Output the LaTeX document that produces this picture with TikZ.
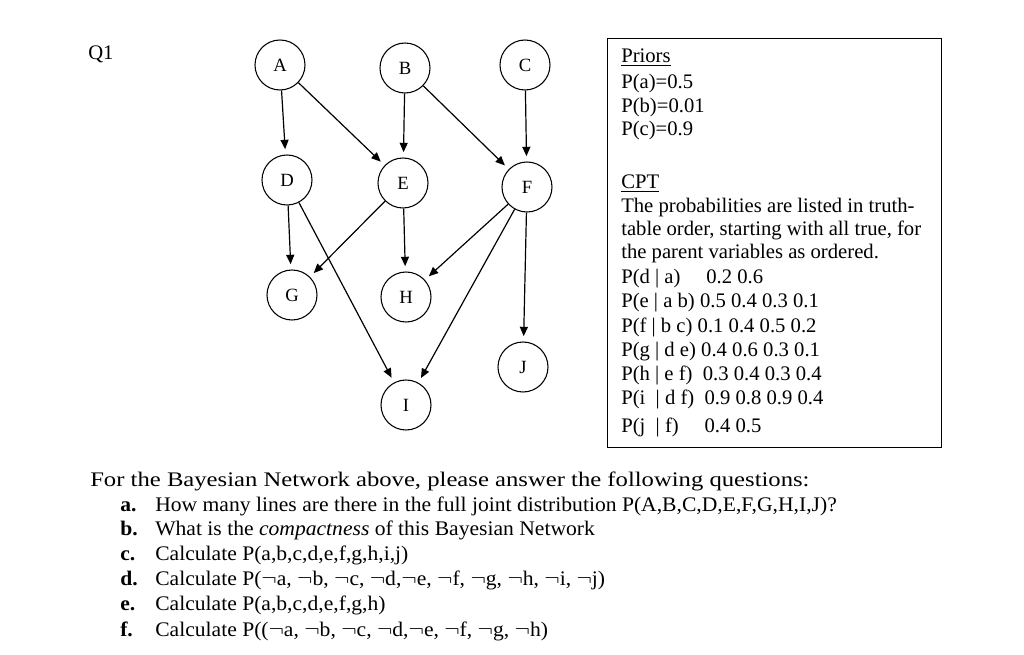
\documentclass[tikz,border=0pt]{standalone}
\usepackage{fontspec}
\setmainfont{Liberation Serif}
\usepackage{graphicx}
\usetikzlibrary{arrows.meta}
\begin{document}
\begin{tikzpicture}[x=0.75pt,y=-0.75pt,
  nd/.style={circle,draw,line width=0.8pt,minimum size=37.5pt,inner sep=0pt,font=\fontsize{14}{16}\selectfont},
  ar/.style={-{Triangle[length=7pt,width=6pt]},line width=0.9pt,shorten >=4pt},
  tx/.style={anchor=base west,inner sep=0pt,font=\fontsize{15.5}{17}\selectfont},
  bt/.style={anchor=base west,inner sep=0pt,font=\fontsize{18.5}{20}\selectfont},
  it/.style={anchor=base west,inner sep=0pt,font=\fontsize{16.2}{18}\selectfont}]
\useasboundingbox (0,0) rectangle (1024,655);
\node[tx] (q) at (88,60) {Q1};
\node[nd] (A) at (280,65) {A};
\node[nd] (B) at (405,68) {B};
\node[nd] (C) at (525,65) {C};
\node[nd] (D) at (287,180) {D};
\node[nd] (E) at (403,183) {E};
\node[nd] (F) at (527,187) {F};
\node[nd] (G) at (292,295) {G};
\node[nd] (H) at (406,297) {H};
\node[nd] (J) at (523,367) {J};
\node[nd] (I) at (406,405) {I};
\draw[ar] (A) -- (D); \draw[ar] (A) -- (E);
\draw[ar] (B) -- (E); \draw[ar] (B) -- (F);
\draw[ar] (C) -- (F);
\draw[ar] (D) -- (G); \draw[ar] (D) -- (I);
\draw[ar] (E) -- (G); \draw[ar] (E) -- (H);
\draw[ar] (F) -- (H); \draw[ar] (F) -- (I); \draw[ar] (F) -- (J);
\node[draw,line width=0.8pt,minimum width=250.5pt,minimum height=307pt,anchor=north west,inner sep=0pt] (box) at (607,38) {};
\node[tx] at (621,63) {\underline{Priors}};
\node[tx] at (621,89) {P(a)=0.5};
\node[tx] at (621,113) {P(b)=0.01};
\node[tx] at (621,136) {P(c)=0.9};
\node[tx] at (621,189) {\underline{CPT}};
\node[tx] at (621,213) {The probabilities are listed in truth-};
\node[tx] at (621,236) {table order, starting with all true, for};
\node[tx] at (621,259) {the parent variables as ordered.};
\node[tx] at (621,284) {P(d | a) \quad 0.2 0.6};
\node[tx] at (621,308) {P(e | a b) 0.5 0.4 0.3 0.1};
\node[tx] at (621,333) {P(f | b c) 0.1 0.4 0.5 0.2};
\node[tx] at (621,357) {P(g | d e) 0.4 0.6 0.3 0.1};
\node[tx] at (621,381) {P(h | e f) \ 0.3 0.4 0.3 0.4};
\node[tx] at (621,405) {P(i \ | d f) \ 0.9 0.8 0.9 0.4};
\node[tx] at (621,433) {P(j \ | f) \quad 0.4 0.5};
\node[bt] at (90,487) {\scalebox{1}[0.84]{For the Bayesian Network above, please answer the following questions:}};
\foreach \l/\t/\y in {a/{How many lines are there in the full joint distribution P(A,B,C,D,E,F,G,H,I,J)?}/511,
  b/{What is the \emph{compactness} of this Bayesian Network}/535,
  c/{Calculate P(a,b,c,d,e,f,g,h,i,j)}/560,
  d/{Calculate P($\neg$a, $\neg$b, $\neg$c, $\neg$d,$\neg$e, $\neg$f, $\neg$g, $\neg$h, $\neg$i, $\neg$j)}/585,
  e/{Calculate P(a,b,c,d,e,f,g,h)}/610,
  f/{Calculate P(($\neg$a, $\neg$b, $\neg$c, $\neg$d,$\neg$e, $\neg$f, $\neg$g, $\neg$h)}/636}
{\node[it] at (120,\y) {\scalebox{1}[0.96]{\textbf{\l.}}}; \node[it] at (155,\y) {\scalebox{1}[0.96]{\t}};}
\end{tikzpicture}
\end{document}
